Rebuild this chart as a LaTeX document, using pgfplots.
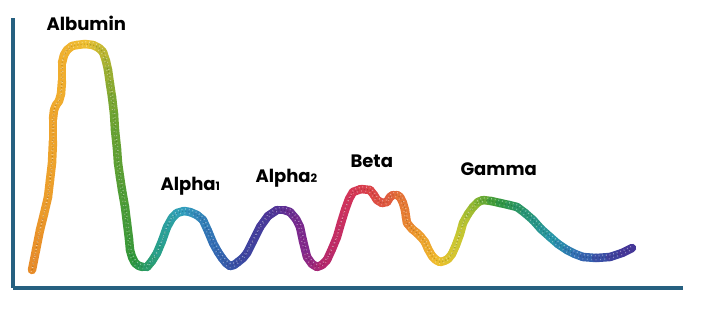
\documentclass[border=0pt]{standalone}
\usepackage{pgfplots}
\pgfplotsset{compat=1.18}
\usepackage{fontspec}
\setmainfont{Poppins}
\definecolor{axisblue}{RGB}{38,96,128}
\newcommand{\sub}[1]{\raisebox{-0.3bp}{\fontsize{11.5bp}{11.5bp}\selectfont #1}}
\tikzset{lab/.style={anchor=base west, font=\bfseries\fontsize{18bp}{18bp}\selectfont}}
\pgfplotstableread{
x y
32 41
36 61
40 81
44 97
48 114
50 131
52 148
53 170
53 192
54 201
56 206
59 210
61 217
62 230
62 248
64 256
67 261
72 265
77 266
85 267
93 266
99 263
103 259
106 250
108 241
110 227
112 214
114 197
115 181
117 162
118 148
120 134
122 121
125 104
127 88
129 72
130 61
132 54
135 48
139 45
143 44
147 44
152 50
157 58
162 70
167 84
172 93
177 98
184 100
190 99
197 96
203 91
208 80
213 68
218 59
222 53
226 48
230 45
234 46
238 49
243 53
247 58
253 70
260 84
268 95
277 101
284 101
290 99
296 92
300 84
303 70
307 54
312 47
317 44
322 46
327 51
332 62
337 74
341 88
345 101
349 112
353 119
361 122
370 121
374 116
377 111
382 108
387 109
390 114
393 116
397 116
400 114
403 108
405 101
406 94
407 88
412 82
417 78
421 74
425 69
428 62
432 55
436 51
440 49
444 50
448 52
452 57
456 66
460 77
463 88
468 97
473 104
478 109
483 111
491 110
500 108
509 106
517 104
525 98
533 91
541 82
550 74
558 67
567 61
575 57
583 54
596 53
610 54
622 58
632 63
}\curve
\begin{document}
\begin{tikzpicture}
\begin{axis}[
  width=670bp, height=270bp, scale only axis,
  xmin=13, xmax=683, ymin=23, ymax=293,
  axis x line=bottom, axis y line=left,
  axis line style={line width=4bp, color=axisblue, -},
  ticks=none, clip=false,
  colormap={spe}{
    rgb255(30pt)=(230,135,40) rgb255(60pt)=(240,172,45) rgb255(90pt)=(238,192,50)
    rgb255(105pt)=(185,182,50) rgb255(115pt)=(105,162,50) rgb255(135pt)=(45,150,60)
    rgb255(160pt)=(40,160,140) rgb255(185pt)=(50,160,190) rgb255(215pt)=(50,110,180)
    rgb255(245pt)=(60,70,160) rgb255(280pt)=(82,50,150) rgb255(305pt)=(130,40,140)
    rgb255(325pt)=(180,40,110) rgb255(350pt)=(210,50,90) rgb255(375pt)=(220,70,70)
    rgb255(395pt)=(225,100,60) rgb255(415pt)=(235,145,45) rgb255(440pt)=(240,190,45)
    rgb255(460pt)=(200,200,50) rgb255(480pt)=(130,180,50) rgb255(500pt)=(50,150,60)
    rgb255(530pt)=(40,150,120) rgb255(555pt)=(40,150,170) rgb255(580pt)=(50,110,180)
    rgb255(610pt)=(60,70,160) rgb255(632pt)=(72,50,150)
  },
  point meta min=30, point meta max=632,
]
\path (axis cs:0,0) rectangle (axis cs:712,311);
\addplot[mesh, point meta=x, line width=8.5bp, line cap=round, line join=round] table[x=x,y=y] {\curve};
\addplot[white, opacity=0.45, line width=1.3bp, dash pattern=on 0.8bp off 2.9bp, yshift=2.2bp, xshift=0.6bp] table[x=x,y=y] {\curve};
\addplot[white, opacity=0.4, line width=1.3bp, dash pattern=on 0.7bp off 3.7bp, yshift=-1.8bp, xshift=-0.8bp] table[x=x,y=y] {\curve};
\addplot[black, opacity=0.18, line width=1.2bp, dash pattern=on 0.9bp off 2.3bp] table[x=x,y=y] {\curve};
\node[lab] at (axis cs:43,281) {Albumin};
\node[lab] at (axis cs:157,121) {Alpha\sub{1}};
\node[lab] at (axis cs:252,129) {Alpha\sub{2}};
\node[lab] at (axis cs:347,144) {Beta};
\node[lab] at (axis cs:457,136) {Gamma};
\end{axis}
\end{tikzpicture}
\end{document}
